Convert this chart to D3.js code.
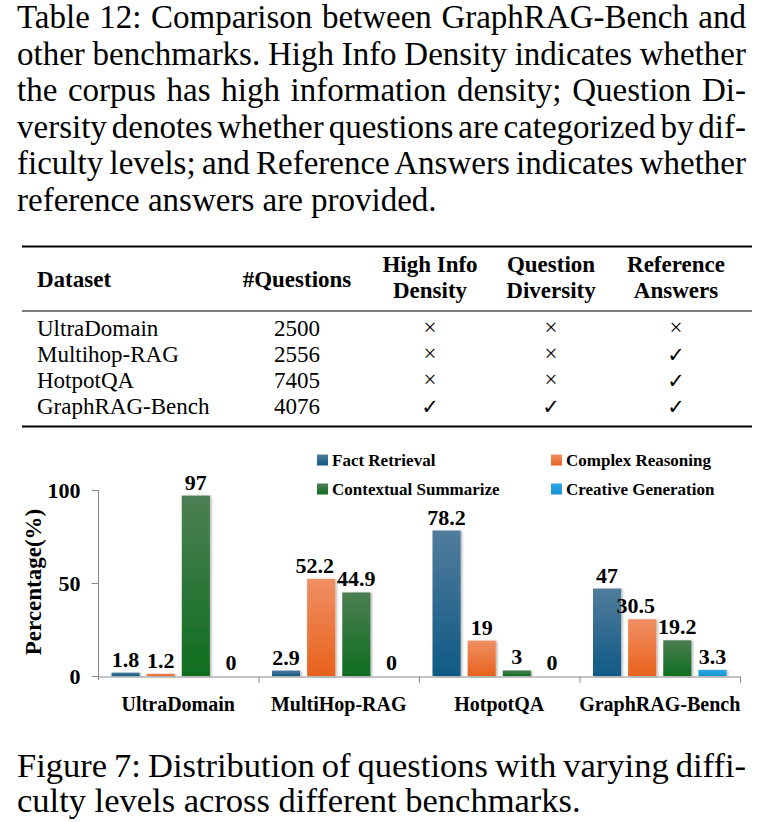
<!DOCTYPE html>
<html>
<head>
<meta charset="utf-8">
<script src="https://cdn.jsdelivr.net/npm/d3@7/dist/d3.min.js"></script>
<style>
  html, body { margin: 0; padding: 0; background: #fff; }
  svg { display: block; }
</style>
</head>
<body>
<div id="chart"></div>
<script>
// ---------------- DATA ----------------
const tableCaption = [
  "Table 12: Comparison between GraphRAG-Bench and",
  "other benchmarks. High Info Density indicates whether",
  "the corpus has high information density; Question Di-",
  "versity denotes whether questions are categorized by dif-",
  "ficulty levels; and Reference Answers indicates whether",
  "reference answers are provided."
];
const tableHeaders = [["Dataset"], ["#Questions"], ["High Info", "Density"], ["Question", "Diversity"], ["Reference", "Answers"]];
const tableDatasets = ["UltraDomain", "Multihop-RAG", "HotpotQA", "GraphRAG-Bench"];
const tableQuestions = [2500, 2556, 7405, 4076];
const highInfoDensity = [false, false, false, true];
const questionDiversity = [false, false, false, true];
const referenceAnswers = [false, true, true, true];

const categories = ["UltraDomain", "MultiHop-RAG", "HotpotQA", "GraphRAG-Bench"];
const seriesNames = ["Fact Retrieval", "Complex Reasoning", "Contextual Summarize", "Creative Generation"];
const factRetrieval = [1.8, 2.9, 78.2, 47];
const complexReasoning = [1.2, 52.2, 19, 30.5];
const contextualSummarize = [97, 44.9, 3, 19.2];
const creativeGeneration = [0, 0, 0, 3.3];
const yTicks = [0, 50, 100];
const yLabel = "Percentage(%)";

const figureCaption = [
  "Figure 7: Distribution of questions with varying diffi-",
  "culty levels across different benchmarks."
];

// ---------------- STYLE ----------------
const W = 771, H = 822;
const SERIF = "'Liberation Serif', 'Times New Roman', Times, serif";
const seriesColors = [
  ["#517c9b", "#0f5a86"],
  ["#f08f64", "#e8621c"],
  ["#4c7f53", "#0f6e1f"],
  ["#2aa8e3", "#1693d3"]
];

const svg = d3.select("#chart").append("svg")
  .attr("width", W).attr("height", H)
  .style("font-family", SERIF);

svg.append("rect").attr("width", W).attr("height", H).attr("fill", "#fff");

// justified paragraph helper
function paragraph(lines, x0, x1, y0, lh, size) {
  lines.forEach((ln, i) => {
    const t = svg.append("text")
      .attr("x", x0).attr("y", y0 + i * lh)
      .attr("font-size", size).attr("fill", "#000")
      .text(ln);
    if (i < lines.length - 1) {
      const w = t.node().getComputedTextLength();
      const n = (ln.match(/ /g) || []).length;
      if (n > 0) t.style("word-spacing", ((x1 - x0 - w) / n) + "px");
    }
  });
}

paragraph(tableCaption, 17, 746, 28, 36.5, 33);

// ---------------- TABLE ----------------
const tbl = svg.append("g");
const tx0 = 22, tx1 = 752;
tbl.append("line").attr("x1", tx0).attr("x2", tx1).attr("y1", 246.5).attr("y2", 246.5).attr("stroke", "#000").attr("stroke-width", 2);
tbl.append("line").attr("x1", tx0).attr("x2", tx1).attr("y1", 311).attr("y2", 311).attr("stroke", "#000").attr("stroke-width", 1.2);
tbl.append("line").attr("x1", tx0).attr("x2", tx1).attr("y1", 426.5).attr("y2", 426.5).attr("stroke", "#000").attr("stroke-width", 2);

const colX = [37, 297, 430, 551, 676];
const tFont = 23;
tableHeaders.forEach((h, i) => {
  const anchor = i === 0 ? "start" : "middle";
  const ys = h.length === 1 ? [287] : [272, 298];
  h.forEach((s, j) => {
    tbl.append("text").attr("x", colX[i]).attr("y", ys[j])
      .attr("text-anchor", anchor).attr("font-weight", "bold")
      .attr("font-size", tFont).text(s);
  });
});
const rowY = d3.scalePoint().domain(tableDatasets).range([336, 414]);
tableDatasets.forEach((d, r) => {
  const y = rowY(d);
  tbl.append("text").attr("x", colX[0]).attr("y", y).attr("font-size", tFont).text(d);
  tbl.append("text").attr("x", colX[1]).attr("y", y).attr("text-anchor", "middle").attr("font-size", tFont).text(tableQuestions[r]);
  [highInfoDensity, questionDiversity, referenceAnswers].forEach((arr, c) => {
    const yes = arr[r];
    tbl.append("text").attr("x", colX[c + 2]).attr("y", yes ? y : y - 1)
      .attr("text-anchor", "middle")
      .attr("font-family", yes ? "'DejaVu Sans', sans-serif" : SERIF)
      .attr("font-size", yes ? 21 : 23)
      .attr("font-weight", "normal")
      .text(yes ? "\u2713" : "\u00D7");
  });
});

// ---------------- CHART ----------------
const values = [factRetrieval, complexReasoning, contextualSummarize, creativeGeneration];
const x0 = d3.scaleBand().domain(categories).range([98, 740]).paddingInner(0).paddingOuter(0);
const x1 = d3.scaleBand().domain(seriesNames).range([13.5, x0.bandwidth() - 13.5]).paddingInner(0.2).paddingOuter(0);
const y = d3.scaleLinear().domain([0, 100]).range([676, 490]);

const defs = svg.append("defs");
seriesColors.forEach((c, i) => {
  const g = defs.append("linearGradient").attr("id", "grad" + i)
    .attr("x1", 0).attr("y1", 0).attr("x2", 0).attr("y2", 1);
  g.append("stop").attr("offset", "0%").attr("stop-color", c[0]);
  g.append("stop").attr("offset", "100%").attr("stop-color", c[1]);
});
const f = defs.append("filter").attr("id", "shadow").attr("x", "-20%").attr("y", "-5%").attr("width", "140%").attr("height", "110%");
f.append("feDropShadow").attr("dx", 1.5).attr("dy", 0.5).attr("stdDeviation", 1.2).attr("flood-color", "#000").attr("flood-opacity", 0.3);

const chart = svg.append("g");

// bars
categories.forEach((cat, ci) => {
  seriesNames.forEach((s, si) => {
    const v = values[si][ci];
    if (v > 0) {
      chart.append("rect")
        .attr("x", x0(cat) + x1(s))
        .attr("y", y(v))
        .attr("width", x1.bandwidth())
        .attr("height", y(0) - y(v))
        .attr("fill", "url(#grad" + si + ")")
        .attr("filter", "url(#shadow)");
    }
  });
});

// y axis
const yAxis = chart.append("g").attr("transform", "translate(98.5,0)")
  .call(d3.axisLeft(y).tickValues(yTicks).tickSize(7).tickPadding(11).tickSizeOuter(0));
yAxis.select(".domain").attr("stroke", "#8a8a8a").attr("d", "M0,490V680");
yAxis.selectAll(".tick line").attr("stroke", "#8a8a8a");
yAxis.selectAll(".tick text").attr("font-family", SERIF).attr("font-weight", "bold").attr("font-size", 22).attr("fill", "#000").attr("dy", "0.34em");

// x axis
const xAxis = chart.append("g").attr("transform", "translate(0,676.5)")
  .call(d3.axisBottom(x0).tickSize(0).tickPadding(20).tickSizeOuter(0));
xAxis.select(".domain").attr("stroke", "#8a8a8a");
xAxis.selectAll(".tick text").attr("font-family", SERIF).attr("font-weight", "bold").attr("font-size", 20).attr("fill", "#000");
const bounds = categories.map(c => x0(c)).concat([x0.range()[1]]).slice(1);
chart.selectAll(".sep").data(bounds).enter().append("line")
  .attr("x1", d => d + 0.5).attr("x2", d => d + 0.5).attr("y1", 676.5).attr("y2", 683)
  .attr("stroke", "#8a8a8a");

// value labels (with simple overlap resolution inside a group)
categories.forEach((cat, ci) => {
  const labels = seriesNames.map((s, si) => {
    const v = values[si][ci];
    return chart.append("text")
      .attr("x", x0(cat) + x1(s) + x1.bandwidth() / 2)
      .attr("y", y(v) - 6)
      .attr("text-anchor", "middle")
      .attr("font-weight", "bold").attr("font-size", 22)
      .text(v);
  });
  for (let i = labels.length - 2; i >= 0; i--) {
    const a = labels[i].node().getBBox(), b = labels[i + 1].node().getBBox();
    const vOverlap = a.y < b.y + b.height && b.y < a.y + a.height;
    const overlap = a.x + a.width + 3 - b.x;
    if (vOverlap && overlap > 0) {
      labels[i].attr("x", +labels[i].attr("x") - overlap);
    }
  }
});

// y label
chart.append("text")
  .attr("transform", "translate(41,582) rotate(-90)")
  .attr("text-anchor", "middle")
  .attr("font-weight", "bold").attr("font-size", 23)
  .text(yLabel);

// legend
const legX = [317, 551], legY = [460, 489];
seriesNames.forEach((s, i) => {
  const lx = legX[i % 2], ly = legY[Math.floor(i / 2)];
  chart.append("rect").attr("x", lx).attr("y", ly - 5.5).attr("width", 11).attr("height", 11)
    .attr("fill", "url(#grad" + i + ")");
  chart.append("text").attr("x", lx + 15).attr("y", ly + 5.5)
    .attr("font-weight", "bold").attr("font-size", 17).text(s);
});

// figure caption
paragraph(figureCaption, 17, 746, 777, 34.5, 34.5);
</script>
</body>
</html>
